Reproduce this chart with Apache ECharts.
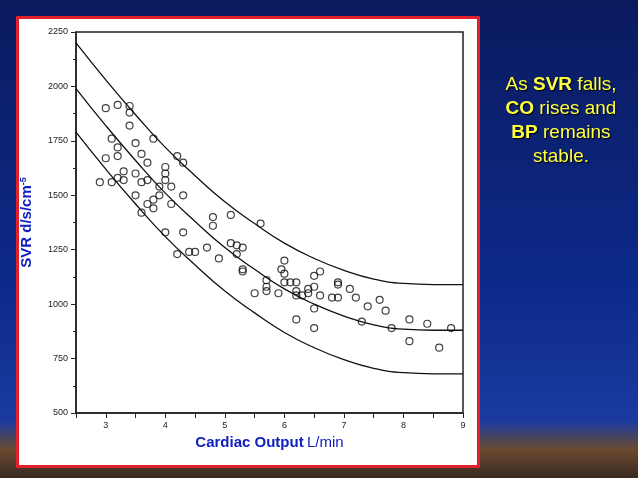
<!DOCTYPE html>
<html><head><meta charset="utf-8">
<script src="https://cdn.jsdelivr.net/npm/echarts@6/dist/echarts.min.js"></script>
<style>
html,body{margin:0;width:638px;height:478px;overflow:hidden;font-family:Arial,"Liberation Sans",sans-serif}
body{background:linear-gradient(180deg,#0a1a5e 0%,#0d2a8a 60%,#1a3aa0 88%,#6a4a30 94%,#3a2a20 100%)}
#frame{position:absolute;left:16px;top:16px;width:458px;height:446px;background:#fff;border:3px solid #e0202a}
#main{position:absolute;left:0;top:0;width:638px;height:478px}
#note{position:absolute;left:484px;top:72px;width:154px;text-align:center;color:#ffff40;font-size:19px;line-height:24px;text-shadow:1px 1px 1px #000}
</style></head>
<body>
<div id="frame"></div>
<div id="main"></div>
<div id="note">As <b>SVR</b> falls,<br><b>CO</b> rises and<br><b>BP</b> remains<br>stable.</div>
<script>
// scatter points [cardiac output, SVR]
var points = [[2.9,1560],[3.0,1900],[3.0,1670],[3.1,1760],[3.1,1560],[3.2,1915],[3.2,1720],[3.2,1680],[3.2,1580],[3.3,1610],[3.3,1570],[3.4,1910],[3.4,1880],[3.4,1820],[3.5,1740],[3.5,1600],[3.5,1500],[3.6,1690],[3.6,1560],[3.6,1420],[3.7,1650],[3.7,1570],[3.7,1460],[3.8,1760],[3.8,1480],[3.8,1440],[3.9,1540],[3.9,1500],[4.0,1630],[4.0,1600],[4.0,1570],[4.0,1330],[4.1,1540],[4.1,1460],[4.2,1680],[4.2,1230],[4.3,1650],[4.3,1500],[4.3,1330],[4.4,1240],[4.5,1240],[4.7,1260],[4.8,1400],[4.8,1360],[4.9,1210],[5.1,1410],[5.1,1280],[5.2,1270],[5.2,1230],[5.3,1260],[5.3,1160],[5.3,1150],[5.5,1050],[5.6,1370],[5.7,1110],[5.7,1080],[5.7,1060],[5.9,1050],[5.95,1160],[6.0,1200],[6.0,1140],[6.0,1100],[6.1,1100],[6.2,1100],[6.2,1060],[6.2,1040],[6.2,930],[6.3,1040],[6.4,1050],[6.4,1070],[6.5,1130],[6.5,1080],[6.5,980],[6.5,890],[6.6,1150],[6.6,1040],[6.8,1030],[6.9,1100],[6.9,1090],[6.9,1030],[7.1,1070],[7.2,1030],[7.3,920],[7.4,990],[7.6,1020],[7.7,970],[7.8,890],[8.1,930],[8.1,830],[8.4,910],[8.6,800],[8.8,890]];

var curveX = [2.5,3,3.5,4,4.5,5,5.5,6,6.5,7,7.5,8,8.5,9];
var upper  = [2200,2030,1870,1720,1590,1470,1370,1280,1210,1155,1115,1095,1090,1090];
var middle = [1990,1820,1660,1510,1380,1260,1160,1070,1000,945,905,885,880,880];
var lower  = [1790,1620,1460,1310,1180,1060,960,870,800,745,705,685,680,680];

function pair(ys){ return curveX.map(function(x,i){ return [x, ys[i]]; }); }
function curve(ys){
	return {type:'line', data:pair(ys), smooth:true, symbol:'none', lineStyle:{color:'#111', width:1.3}, z:1};
}

var myChart = echarts.init(document.getElementById('main'));
myChart.setOption({
	animation:false,
	grid:{left:76, right:175, top:32, bottom:65, show:true, borderColor:'#222', borderWidth:1.5},
	xAxis:{type:'value', min:2.5, max:9, interval:0.5,
		axisLine:{lineStyle:{color:'#222', width:1.5}}, axisTick:{lineStyle:{color:'#222'}},
		splitLine:{show:false},
		axisLabel:{color:'#222', fontSize:9, formatter:function(v){ return v % 1 === 0 ? v : ''; }},
		name:'{b|Cardiac Output} {n|L/min}', nameLocation:'middle', nameGap:22,
		nameTextStyle:{rich:{b:{color:'#1020c0', fontWeight:'bold', fontSize:15}, n:{color:'#1020c0', fontSize:15}}}
	},
	yAxis:{type:'value', min:500, max:2250, interval:250,
		axisLine:{lineStyle:{color:'#222', width:1.5}}, axisTick:{lineStyle:{color:'#222'}},
		minorTick:{show:true, splitNumber:2, lineStyle:{color:'#222'}},
		splitLine:{show:false},
		axisLabel:{color:'#222', fontSize:9, formatter:function(v){ return String(v); }},
		name:'{b|SVR d/s/cm}{s|-5}', nameLocation:'middle', nameGap:42,
		nameTextStyle:{rich:{b:{color:'#1020c0', fontWeight:'bold', fontSize:15}, s:{color:'#1020c0', fontWeight:'bold', fontSize:9, verticalAlign:'top'}}}
	},
	series:[
		curve(upper), curve(middle), curve(lower),
		{type:'scatter', data:points, symbol:'circle', symbolSize:7,
			itemStyle:{color:'rgba(255,255,255,0)', borderColor:'#111', borderWidth:1.2}, z:2}
	]
});
</script>
</body></html>
